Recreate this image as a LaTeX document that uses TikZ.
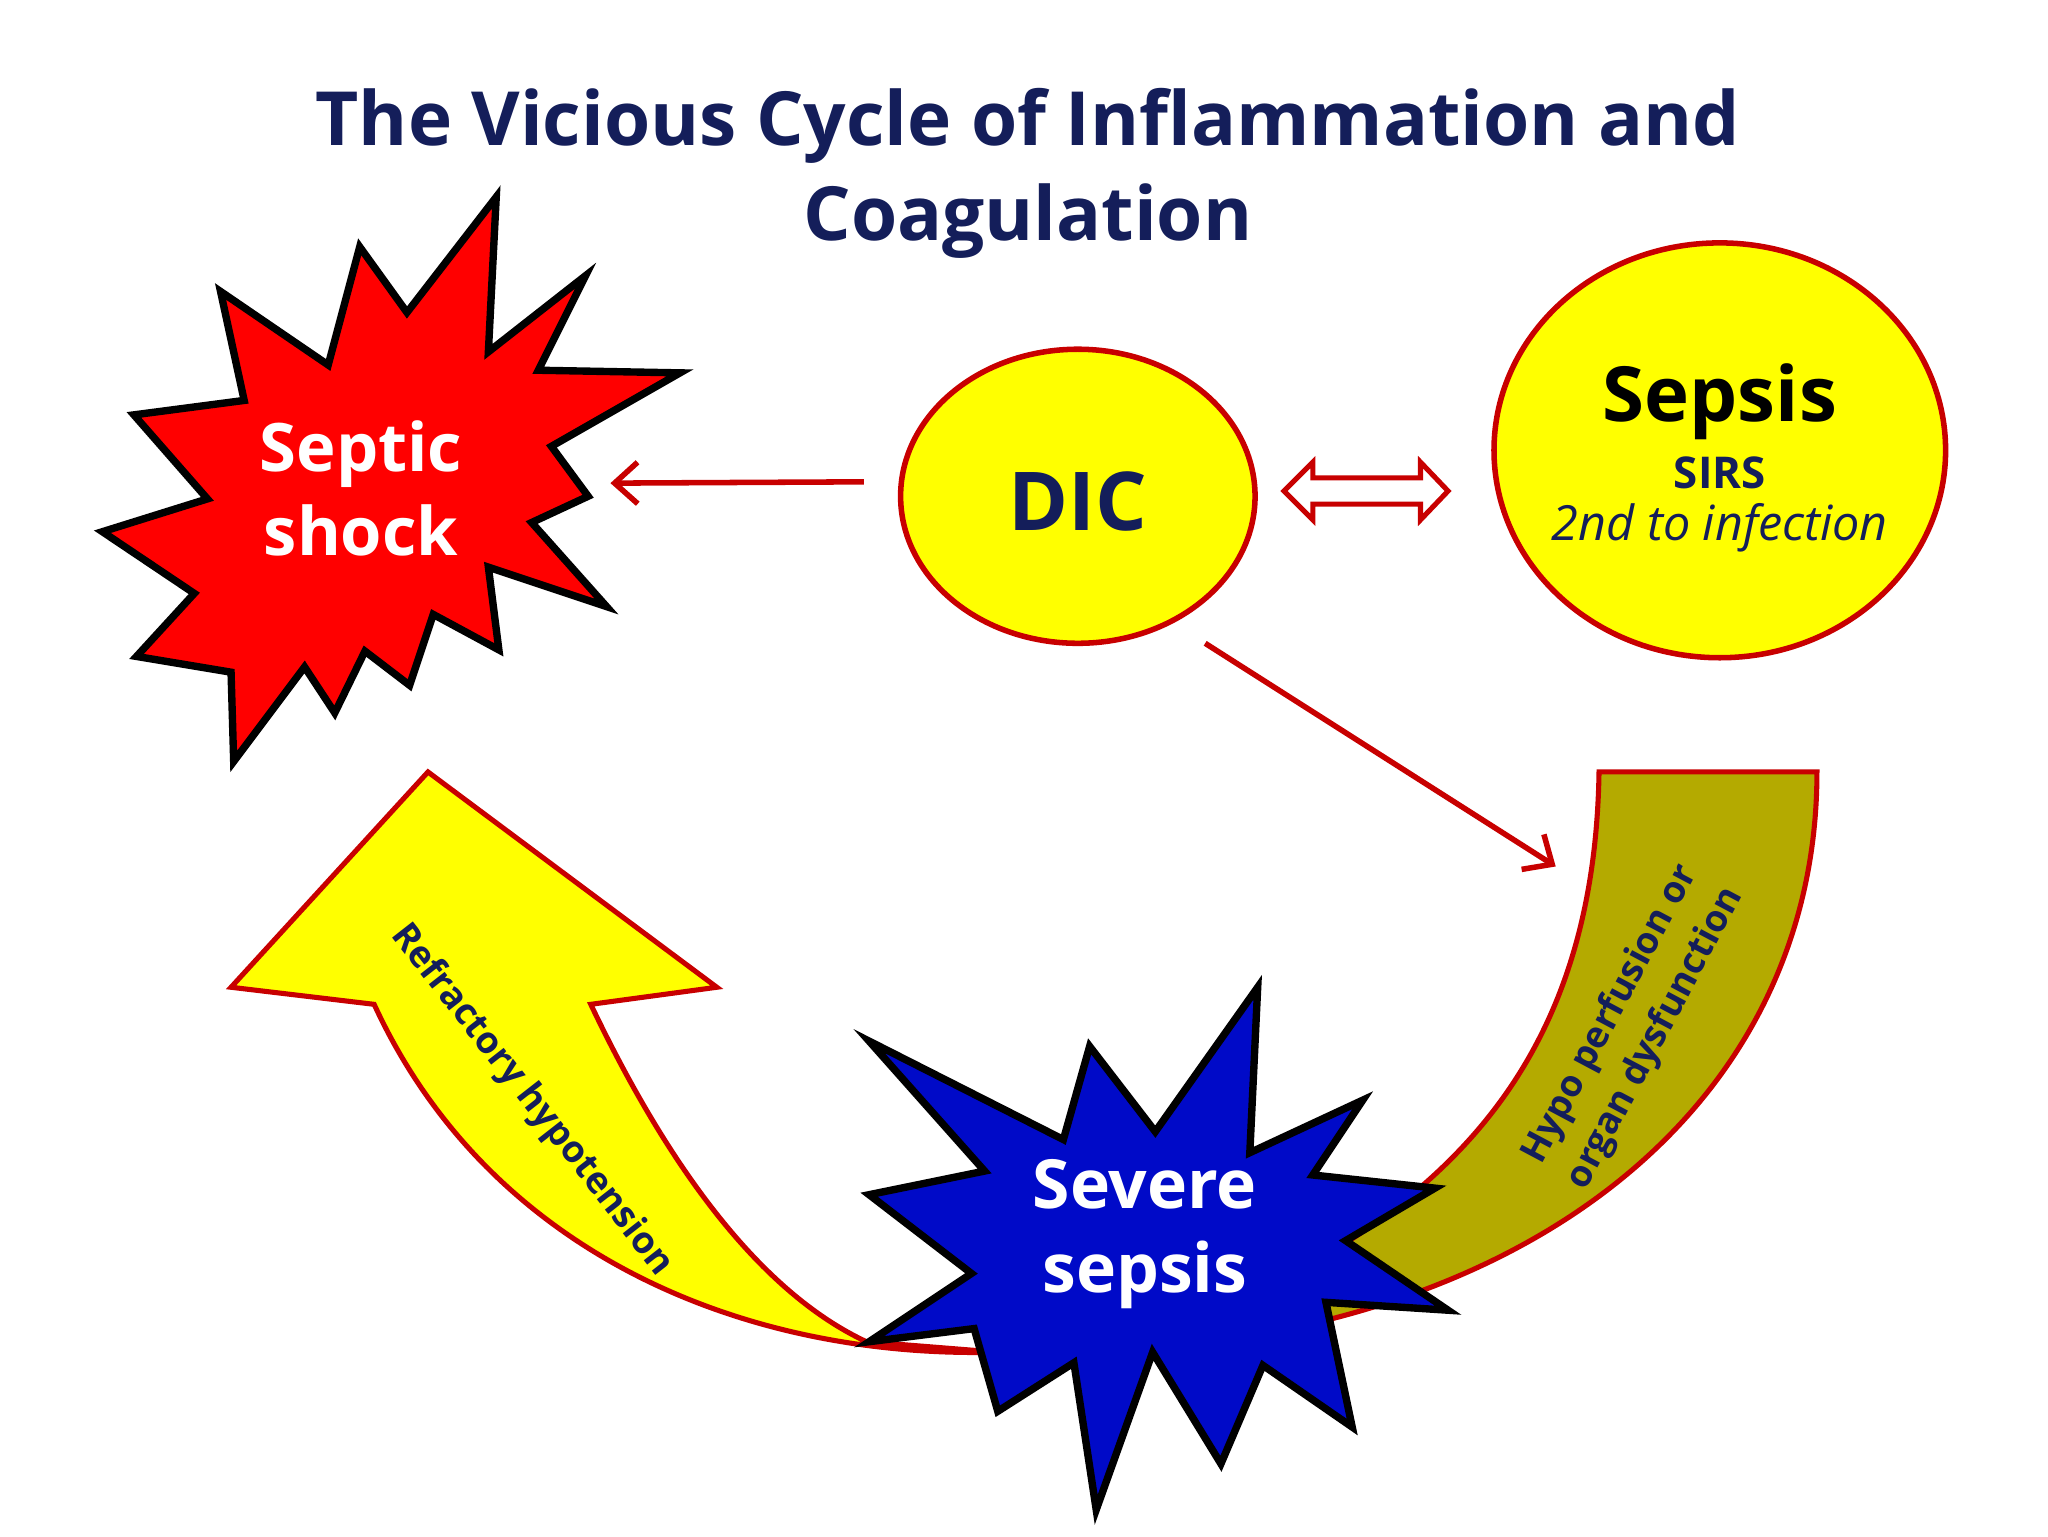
\documentclass[tikz,border=0pt]{standalone}
\usepackage{fontspec}
\setmainfont{Open Sans}
\usetikzlibrary{arrows.meta}
\definecolor{navy}{RGB}{20,30,90}
\definecolor{dred}{RGB}{200,0,0}
\definecolor{yel}{RGB}{255,255,0}
\definecolor{olive}{RGB}{180,170,0}
\definecolor{sblue}{RGB}{0,10,200}
\begin{document}
\begin{tikzpicture}[x=0.1mm,y=-0.1mm,
  star/.style={draw=black,line width=1.6pt,line join=miter},
  band/.style={draw=dred,line width=1.1pt,line join=miter},
  oval/.style={draw=dred,line width=1.2pt,fill=yel},
  conn/.style={draw=dred,line width=1.2pt,-{Straight Barb[length=5pt,width=9pt]}},
  lbl/.style={text=navy,font=\bfseries\fontsize{8}{11}\selectfont,align=center}]
\useasboundingbox[fill=white] (0,0) rectangle (1560,1170);
\node[text=navy,font=\bfseries\fontsize{16.2}{20.5}\selectfont,align=center] (title) at (783,132) {The Vicious Cycle of Inflammation and\\Coagulation};
% olive band
\path[band,fill=olive] (1218,588) -- (1384,588) .. controls (1384,850) and (1150,1030) .. (800,1030) -- (900,1000) .. controls (960,975) and (1000,960) .. (1020,950) .. controls (1130,880) and (1215,780) .. (1218,588) -- cycle;
% yellow arrow
\path[band,fill=yel] (760,1030) .. controls (560,1035) and (370,950) .. (285,765) -- (176,752) -- (326,588) -- (546,752) -- (450,765) .. controls (500,870) and (570,980) .. (660,1022) -- cycle;
\node[lbl,rotate=-52] (lref) at (405,838) {Refractory hypotension};
\node[lbl,rotate=62] (lhypo) at (1244,782) {Hypo perfusion or\\organ dysfunction};
% septic shock star
\path[star,fill=red] (378,150)--(372,268)--(446,210)--(410,282)--(518,284)--(420,340)--(448,378)--(405,398)--(462,462)--(372,432)--(380,495)--(330,468)--(312,522)--(278,496)--(255,543)--(232,508)--(178,580)--(176,512)--(104,500)--(148,452)--(78,405)--(158,380)--(102,316)--(186,305)--(168,222)--(250,278)--(274,188)--(310,238)--cycle;
\node[text=white,font=\bfseries\fontsize{14.5}{18}\selectfont,align=center] (septic) at (275,372) {Septic\\shock};
% severe sepsis star
\path[star,fill=sblue] (958,752)--(952,878)--(1038,838)--(1000,895)--(1093,905)--(1025,945)--(1103,998)--(1010,992)--(1030,1087)--(962,1040)--(930,1115)--(878,1030)--(835,1150)--(818,1038)--(760,1075)--(742,1012)--(662,1022)--(740,970)--(662,910)--(750,892)--(662,793)--(810,868)--(830,797)--(880,862)--cycle;
\node[text=white,font=\bfseries\fontsize{14.7}{18}\selectfont,align=center] (severe) at (872,940) {Severe\\sepsis};
% ellipses
\draw[oval] (821,378) ellipse [x radius=135,y radius=112];
\node[text=navy,font=\bfseries\fontsize{17.6}{20}\selectfont] (dic) at (821,382) {DIC};
\draw[oval] (1310,343) ellipse [x radius=172,y radius=158];
\node[font=\bfseries\fontsize{16.5}{19}\selectfont] (sepsis) at (1310,306) {Sepsis};
\node[text=navy,font=\bfseries\fontsize{9.5}{12}\selectfont] (sirs) at (1310,360) {SIRS};
\node[text=navy,font=\itshape\fontsize{10.5}{12}\selectfont] (inf) at (1310,402) {2nd to infection};
% connectors
\coordinate (a1) at (658,367); \coordinate (a2) at (465,368);
\draw[conn] (a1) -- (a2);
\coordinate (b1) at (918,490); \coordinate (b2) at (1185,660);
\draw[conn] (b1) -- (b2);
\path[draw=dred,line width=1.1pt,fill=white,line join=miter] (978,374)--(1000,352)--(1000,364)--(1082,364)--(1082,352)--(1103,374)--(1082,396)--(1082,384)--(1000,384)--(1000,396)--cycle;
\end{tikzpicture}
\end{document}
